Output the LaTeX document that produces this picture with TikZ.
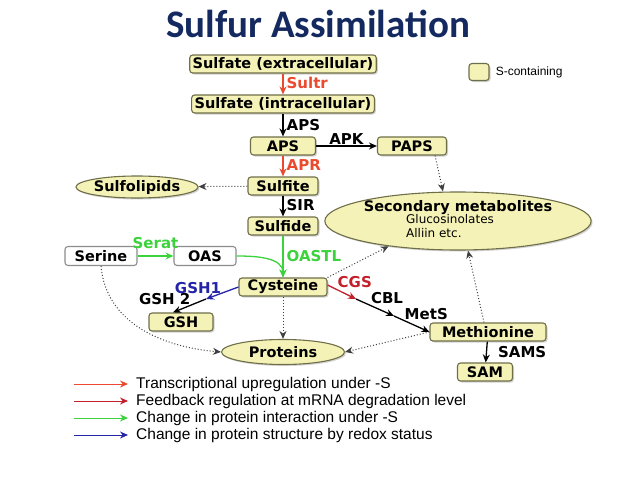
\documentclass[tikz,border=0pt]{standalone}
\usepackage{fontspec}
\usetikzlibrary{arrows.meta, positioning, calc, shapes.geometric, shadows}
\newfontfamily\boxfont{DejaVu Sans}
\newfontfamily\legfont{Liberation Sans}
\newfontfamily\titlefont{Carlito}
\definecolor{titleblue}{HTML}{13295F}
\definecolor{sfill}{HTML}{F5F2B8}
\definecolor{sdraw}{HTML}{6E6E48}
\definecolor{upred}{HTML}{EC4A2E}
\definecolor{fbred}{HTML}{C3202B}
\definecolor{intgreen}{HTML}{3CD23C}
\definecolor{redoxblue}{HTML}{2424A8}

\begin{document}
\begin{tikzpicture}[
    x=1pt, y=-1pt,
    font=\boxfont\bfseries\fontsize{14.5}{15}\selectfont,
    scont/.style={
        rectangle, rounded corners=3pt, draw=sdraw, fill=sfill, line width=1.1pt,
        minimum height=18pt, inner xsep=3pt, inner ysep=0.5pt,
        drop shadow={shadow xshift=1.5pt, shadow yshift=-1.5pt, fill=black!35}
    },
    plain/.style={
        rectangle, rounded corners=3pt, draw=black!45, fill=white, line width=1.1pt,
        minimum height=19pt, inner xsep=4pt, inner ysep=0.5pt
    },
    pool/.style={
        ellipse, draw=sdraw, fill=sfill, line width=1.1pt, inner sep=0pt,
        drop shadow={shadow xshift=1.5pt, shadow yshift=-1.5pt, fill=black!35}
    },
    flow/.style={-{Stealth[length=8pt, width=7pt]}, line width=1.3pt},
    fate/.style={-{Stealth[length=8pt, width=7pt]}, dotted, line width=1pt, draw=black!75},
    enz/.style={font=\boxfont\bfseries\fontsize{15}{16}\selectfont, inner sep=1pt},
    legtxt/.style={font=\legfont\fontsize{15.5}{16}\selectfont, anchor=west, inner sep=0pt}
]

% ---- Fix the page to the reference size ----
\useasboundingbox (0,0) rectangle (638,479);

% ---- Title ----
\node[font=\titlefont\bfseries\fontsize{39}{40}\selectfont, text=titleblue] (title) at (318,24) {Sulfur Assimilation};

% ---- Main chain ----
\node[scont] (sext) at (283,64) {Sulfate (extracellular)};
\node[scont] (sint) at (283,104) {Sulfate (intracellular)};
\node[scont, minimum width=65pt] (aps) at (283,146) {APS};
\node[scont, minimum width=69pt] (paps) at (412,146) {PAPS};
\node[scont, minimum width=70pt] (sulfite) at (283,186) {Sulfite};
\node[scont, minimum width=70pt] (sulfide) at (283,226) {Sulfide};
\node[scont, minimum width=88pt] (cys) at (283,287) {Cysteine};
\node[scont, minimum width=64pt] (gsh) at (181,322) {GSH};
\node[scont, minimum width=116pt] (meth) at (488,332) {Methionine};
\node[scont, minimum width=55pt] (sam) at (485,372) {SAM};

% ---- Non S-containing precursors ----
\node[plain, minimum width=72pt] (serine) at (101,256) {Serine};
\node[plain, minimum width=62pt] (oas) at (205,256) {OAS};

% ---- Sinks ----
\node[pool, minimum width=119pt, minimum height=22pt] (sulfolip) at (137,187) {Sulfolipids};
\node[pool, minimum width=229pt, minimum height=58pt, align=center] (sec) at (458,221)
     {Secondary metabolites\\[-2pt]
      \hspace*{-16pt}{\mdseries\fontsize{12}{13.5}\selectfont\begin{tabular}{@{}l@{}}Glucosinolates\\Alliin etc.\end{tabular}}};
\node[pool, minimum width=123pt, minimum height=25pt] (prot) at (283,352) {Proteins};

% ---- Key ----
\node[scont, minimum width=20pt, minimum height=17pt, inner sep=0pt] (key) at (479,72) {};
\node[font=\legfont\fontsize{12}{13}\selectfont, anchor=west, inner sep=0pt] (keytxt) at ([xshift=6pt]key.east) {S-containing};

% ---- Assimilation steps ----
\draw[flow, upred] (sext) -- node[enz, right=2pt, pos=0.45] {Sultr} (sint);
\draw[flow] (sint) -- node[enz, right=2pt, pos=0.5] {APS} (aps);
\draw[flow] (aps) -- node[enz, above, pos=0.5] {APK} (paps);
\draw[flow, upred] (aps) -- node[enz, right=2pt, pos=0.45] {APR} (sulfite);
\draw[flow] (sulfite) -- node[enz, right=2pt, pos=0.45] {SIR} (sulfide);
\draw[flow, intgreen] (sulfide) -- node[enz, right=2pt, pos=0.5] {OASTL} (cys);
\draw[flow, intgreen] (serine) -- node[enz, above=6pt, pos=0.5] {Serat} (oas);
\draw[flow, intgreen] (oas.east) to[out=0, in=90] (cys.north);

% ---- Glutathione branch ----
\coordinate (gshmid) at (206,299);
\draw[flow, redoxblue] (cys.west) -- node[enz, above=4pt, xshift=-8pt, pos=1] {GSH1} (gshmid);
\draw[flow] (gshmid) -- node[enz, left=14pt, pos=0.0] {GSH 2} ([xshift=-8pt]gsh.north);

% ---- Methionine branch ----
\coordinate (cgsend) at (356,299);
\coordinate (cblend) at (394,316);
\draw[flow, fbred] ([yshift=2pt]cys.east) -- node[enz, above right=0pt and 0pt, pos=0.3] {CGS} (cgsend);
\draw[flow] (cgsend) -- node[enz, above right=-1pt and 2pt, pos=0.3] {CBL} (cblend);
\draw[flow] (cblend) -- node[enz, above right=-2pt and 2pt, pos=0.2] {MetS} (meth.west);
\draw[flow] (meth) -- node[enz, right=10pt, pos=0.5] {SAMS} (sam);

% ---- Fates (dotted) ----
\draw[fate] (sulfite) -- (sulfolip);
\draw[fate] ([xshift=-12pt]paps.south east) -- ([xshift=-15pt]sec.north);
\draw[fate] (cys.north east) -- (sec.200);
\draw[fate] (cys.south) -- (prot.north);
\draw[fate] (serine.south) to[out=-85, in=175] (prot.west);
\draw[fate] (meth.west) -- (prot.east);
\draw[fate] ([xshift=-4pt]meth.north) -- ([xshift=10pt]sec.south);

% ---- Legend ----
\foreach \c/\t/\yy [count=\i] in {
    upred/Transcriptional upregulation under -S/384,
    fbred/Feedback regulation at mRNA degradation level/401,
    intgreen/Change in protein interaction under -S/418,
    redoxblue/Change in protein structure by redox status/435} {
  \coordinate (l\i) at (74,\yy);
  \node[legtxt] (t\i) at (136,\yy) {\t};
  \draw[flow, \c, line width=1pt] (l\i) -- ([xshift=-8pt]t\i.west);
}

\end{tikzpicture}
\end{document}
